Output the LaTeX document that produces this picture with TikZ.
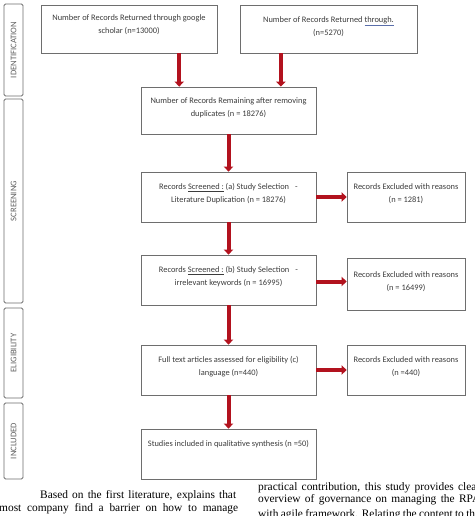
\documentclass[tikz,border=0pt]{standalone}
\usepackage{fontspec}
\setmainfont{Liberation Serif}
\newfontfamily\boxfont{Carlito}
\usetikzlibrary{arrows.meta,calc}
\definecolor{arrred}{RGB}{178,18,30}
\definecolor{boxline}{RGB}{110,110,110}
\definecolor{boxtext}{RGB}{60,60,60}
\definecolor{stagetext}{RGB}{95,95,95}
\definecolor{spellline}{RGB}{90,110,170}
\tikzset{
  mainbox/.style={draw=boxline, line width=0.9pt, rectangle, inner sep=0pt},
  btxt/.style={font=\boxfont\fontsize{8.4}{13}\selectfont, text=boxtext, align=center, inner sep=0pt},
  stagebox/.style={draw=boxline, line width=0.9pt, rounded corners=1.5pt, minimum width=19pt, inner sep=0pt},
  stagetxt/.style={font=\boxfont\fontsize{8.6}{10}\selectfont, text=stagetext, rotate=90, inner sep=0pt},
  arr/.style={draw=arrred, line width=4pt, -{Triangle[width=9.5pt,length=5pt]}},
  body/.style={font=\fontsize{11.4}{12.5}\selectfont, text=black, inner sep=0pt, anchor=base west}
}
\begin{document}
\begin{tikzpicture}[x=1pt,y=-1pt]
\useasboundingbox (0,0) rectangle (474,516);
\clip (0,0) rectangle (474,516);
\fill[white] (0,0) rectangle (474,516);

% stage boxes
\node[stagebox, minimum height=92pt] (s1) at (13.5,50) {};
\node[stagetxt] (s1t) at (s1) {IDENTIFICATION};
\node[stagebox, minimum height=204pt] (s2) at (13.5,201) {};
\node[stagetxt] (s2t) at (s2) {SCREENING};
\node[stagebox, minimum height=90pt] (s3) at (13.5,353) {};
\node[stagetxt] (s3t) at (s3) {ELIGIBILITY};
\node[stagebox, minimum height=76pt] (s4) at (13.5,441) {};
\node[stagetxt] (s4t) at (s4) {INCLUDED};

% main boxes
\node[mainbox, minimum width=176pt, minimum height=48pt] (b1) at (129,29) {};
\node[btxt, yshift=4pt] (t1) at (b1) {Number of Records Returned through google\\scholar (n=13000)};
\node[mainbox, minimum width=177pt, minimum height=48pt] (b2) at (328.5,29) {};
\node[btxt, yshift=2.5pt] (t2) at (b2) {Number of Records Returned {\color{spellline}\underline{\color{boxtext}through.}}\\(n=5270)};
\node[mainbox, minimum width=175pt, minimum height=47pt] (b3) at (228.5,110.5) {};
\node[btxt, yshift=3pt] (t3) at (b3) {Number of Records Remaining after removing\\duplicates (n = 18276)};
\node[mainbox, minimum width=175pt, minimum height=50pt] (b4) at (228.5,197) {};
\node[btxt, yshift=3pt] (t4) at (b4) {Records \underline{Screened :} (a) Study Selection \enspace -\\Literature Duplication (n = 18276)};
\node[mainbox, minimum width=175pt, minimum height=50pt] (b5) at (228.5,280) {};
\node[btxt, yshift=3pt] (t5) at (b5) {Records \underline{Screened :} (b) Study Selection \enspace -\\irrelevant keywords (n = 16995)};
\node[mainbox, minimum width=175pt, minimum height=50pt] (b6) at (228.5,370) {};
\node[btxt, yshift=3pt] (t6) at (b6) {Full text articles assessed for eligibility (c)\\language (n=440)};
\node[mainbox, minimum width=175pt, minimum height=50pt] (b7) at (228.5,454) {};
\node[btxt, yshift=10pt] (t7) at (b7) {Studies included in qualitative synthesis (n =50)};

% exclusion boxes
\node[mainbox, minimum width=118pt, minimum height=50pt] (e1) at (406,197) {};
\node[btxt, yshift=3pt] (u1) at (e1) {Records Excluded with reasons\\(n = 1281)};
\node[mainbox, minimum width=118pt, minimum height=52pt] (e2) at (406,284) {};
\node[btxt, yshift=2pt] (u2) at (e2) {Records Excluded with reasons\\(n = 16499)};
\node[mainbox, minimum width=118pt, minimum height=50pt] (e3) at (406,370) {};
\node[btxt, yshift=3pt] (u3) at (e3) {Records Excluded with reasons\\(n =440)};

% arrows
\coordinate (a1) at ($(b1.south west)!0.784!(b1.south east)$);
\coordinate (a2) at ($(b2.south west)!0.232!(b2.south east)$);
\draw[arr] (a1) -- (a1 |- b3.north);
\draw[arr] (a2) -- (a2 |- b3.north);
\draw[arr] (b3.south) -- (b4.north);
\draw[arr] (b4.south) -- (b5.north);
\draw[arr] (b5.south) -- (b6.north);
\draw[arr] (b6.south) -- (b7.north);
\draw[arr] (b4.east) -- (b4.east -| e1.west);
\draw[arr] ([yshift=-1.5pt]b5.east) -- ([yshift=-1.5pt]b5.east -| e2.west);
\draw[arr] (b6.east) -- (b6.east -| e3.west);

% body text below the figure
\node[body] (p1) at (40,498.5) {\makebox[196pt][s]{Based on the first literature, explains that}};
\node[body] (p2) at (-1,511) {\makebox[239pt][s]{most company find a barrier on how to manage}};
\node[body] (q1) at (258,490) {\makebox[222pt][s]{practical contribution, this study provides clear}};
\node[body] (q2) at (258,502.5) {\makebox[222pt][s]{overview of governance on managing the RPA}};
\node[body] (q3) at (258,517) {\makebox[222pt][s]{with agile framework. Relating the content to the}};
\end{tikzpicture}
\end{document}
